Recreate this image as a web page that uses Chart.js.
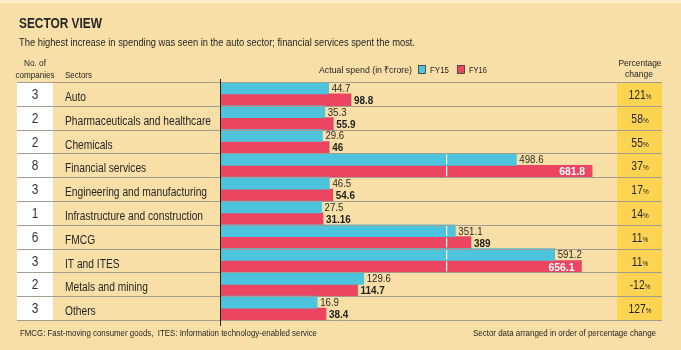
<!DOCTYPE html>
<html>
<head>
<meta charset="utf-8">
<script src="https://cdn.jsdelivr.net/npm/chart.js@4.4.1/dist/chart.umd.min.js"></script>
<style>
  body { margin: 0; background: #f8dfa7; }
  #wrap { position: relative; width: 681px; height: 350px; }
</style>
</head>
<body>
<div id="wrap"><canvas id="chart" width="681" height="350"></canvas></div>
<script>
const sectors = ['Auto', 'Pharmaceuticals and healthcare', 'Chemicals', 'Financial services',
  'Engineering and manufacturing', 'Infrastructure and construction', 'FMCG', 'IT and ITES',
  'Metals and mining', 'Others'];
const companies = [3, 2, 2, 8, 3, 1, 6, 3, 2, 3];
const fy15 = [44.7, 35.3, 29.6, 498.6, 46.5, 27.5, 351.1, 591.2, 129.6, 16.9];
const fy16 = [98.8, 55.9, 46, 681.8, 54.6, 31.16, 389, 656.1, 114.7, 38.4];
const pctChange = [121, 58, 55, 37, 17, 14, 11, 11, -12, 127];

const FONT = "'Liberation Sans', Arial, sans-serif";
const BLUE = '#4dc3de';
const RED = '#eb4562';
const INK = '#262626';
const AXIS_MIN = -218;   // leaves a stub so small bars stay visible, like the original
const BREAK_AT = 330;    // white break mark on long bars

// the original uses a condensed face, so squeeze text horizontally
function drawText(ctx, txt, x, y, font, sx, align) {
  ctx.save();
  ctx.font = font;
  const w = ctx.measureText(txt).width * sx;
  const x0 = align === 'center' ? x - w / 2 : align === 'right' ? x - w : x;
  ctx.translate(x0, y);
  ctx.scale(sx, 1);
  ctx.textAlign = 'left';
  ctx.fillText(txt, 0, 0);
  ctx.restore();
  return w;
}
function fitText(ctx, txt, x, y, font, width, align) {
  ctx.save();
  ctx.font = font;
  const sx = width / ctx.measureText(txt).width;
  ctx.restore();
  return drawText(ctx, txt, x, y, font, sx, align);
}

const tablePlugin = {
  id: 'table',
  beforeDraw(chart) {
    const ctx = chart.ctx;
    const y = chart.scales.y;
    const top = chart.chartArea.top, bottom = chart.chartArea.bottom;
    ctx.save();
    ctx.fillStyle = '#fcecca';
    ctx.fillRect(0, 0, chart.width, 3);
    ctx.fillStyle = '#ffffff';
    ctx.fillRect(17, top, 36, bottom - top);
    ctx.fillStyle = '#fdd452';
    ctx.fillRect(617, top, 45, bottom - top);

    ctx.fillStyle = INK;
    ctx.textBaseline = 'alphabetic';
    fitText(ctx, 'SECTOR VIEW', 19, 28, 'bold 14px ' + FONT, 83, 'left');
    fitText(ctx, 'The highest increase in spending was seen in the auto sector; financial services spent the most.',
      19, 46, '10.5px ' + FONT, 396, 'left');

    // headers
    fitText(ctx, 'No. of', 35, 66, '9px ' + FONT, 22, 'center');
    fitText(ctx, 'companies', 35, 78, '9px ' + FONT, 39, 'center');
    fitText(ctx, 'Sectors', 65, 78, '9px ' + FONT, 27, 'left');
    fitText(ctx, 'Percentage', 640, 66, '9.5px ' + FONT, 43, 'center');
    fitText(ctx, 'change', 639, 77, '9.5px ' + FONT, 28, 'center');
    fitText(ctx, 'Actual spend (in \u20B9crore)', 319, 73, '9.5px ' + FONT, 93, 'left');
    ctx.strokeStyle = '#333';
    ctx.lineWidth = 0.8;
    ctx.fillStyle = BLUE;
    ctx.fillRect(418.5, 65.5, 7, 8);
    ctx.strokeRect(418.5, 65.5, 7, 8);
    ctx.fillStyle = RED;
    ctx.fillRect(457.5, 65.5, 7, 8);
    ctx.strokeRect(457.5, 65.5, 7, 8);
    ctx.fillStyle = INK;
    fitText(ctx, 'FY15', 430, 73, '9.5px ' + FONT, 19, 'left');
    fitText(ctx, 'FY16', 469, 73, '9.5px ' + FONT, 18, 'left');

    // footer
    fitText(ctx, 'FMCG: Fast-moving consumer goods,  ITES: Information technology-enabled service',
      20, 336, '9px ' + FONT, 297, 'left');
    fitText(ctx, 'Sector data arranged in order of percentage change', 656, 336, '9px ' + FONT, 183, 'right');

    // companies, sector names and percentage change, one per row
    ctx.font = '12.5px ' + FONT;
    const sectorSx = 146 / ctx.measureText('Pharmaceuticals and healthcare').width;
    sectors.forEach((name, i) => {
      const cy = y.getPixelForValue(i);
      ctx.fillStyle = '#333';
      drawText(ctx, String(companies[i]), 35, cy + 5, '14px ' + FONT, 0.85, 'center');
      ctx.fillStyle = INK;
      drawText(ctx, name, 65, cy + 7, '12.5px ' + FONT, sectorSx, 'left');
      const num = String(pctChange[i]);
      ctx.font = '13px ' + FONT;
      const w1 = ctx.measureText(num).width * 0.8;
      ctx.font = '8px ' + FONT;
      const w2 = ctx.measureText('%').width * 0.8;
      const x0 = 640 - (w1 + w2) / 2;
      drawText(ctx, num, x0, cy + 5, '13px ' + FONT, 0.8, 'left');
      drawText(ctx, '%', x0 + w1, cy + 5, '8px ' + FONT, 0.8, 'left');
    });
    ctx.restore();
  },
  afterDatasetsDraw(chart) {
    const ctx = chart.ctx;
    const x = chart.scales.x;
    const y = chart.scales.y;
    const area = chart.chartArea;
    ctx.save();
    // break marks on long bars
    const bx = x.getPixelForValue(BREAK_AT);
    ctx.strokeStyle = '#ffffff';
    ctx.lineWidth = 1.2;
    [fy15, fy16].forEach((vals, d) => {
      chart.getDatasetMeta(d).data.forEach((bar, i) => {
        if (vals[i] > BREAK_AT) {
          ctx.beginPath();
          ctx.moveTo(bx, bar.y - bar.height / 2 + 1);
          ctx.lineTo(bx, bar.y + bar.height / 2 - 1);
          ctx.stroke();
        }
      });
    });
    // row separators
    const step = y.getPixelForValue(1) - y.getPixelForValue(0);
    ctx.strokeStyle = '#a29d8e';
    ctx.lineWidth = 1;
    for (let i = 0; i <= sectors.length; i++) {
      const ly = Math.round(y.getPixelForValue(i) - step / 2) + 0.5;
      ctx.beginPath();
      ctx.moveTo(17, ly);
      ctx.lineTo(662, ly);
      ctx.stroke();
    }
    // axis line
    ctx.strokeStyle = '#222';
    ctx.beginPath();
    ctx.moveTo(area.left + 0.5, 79);
    ctx.lineTo(area.left + 0.5, 326);
    ctx.stroke();
    // value labels
    ctx.textBaseline = 'middle';
    [fy15, fy16].forEach((vals, d) => {
      chart.getDatasetMeta(d).data.forEach((bar, i) => {
        const v = vals[i];
        const txt = String(v);
        if (v > 600 && d === 1) {
          ctx.fillStyle = '#ffffff';
          drawText(ctx, txt, bar.x - 7, bar.y + 1, 'bold 11.5px ' + FONT, 0.9, 'right');
        } else if (d === 1) {
          ctx.fillStyle = '#1e1e1e';
          drawText(ctx, txt, bar.x + 3, bar.y + 1, 'bold 11px ' + FONT, 0.9, 'left');
        } else {
          ctx.fillStyle = '#2a2a2a';
          drawText(ctx, txt, bar.x + 3, bar.y + 1, '10.5px ' + FONT, 0.92, 'left');
        }
      });
    });
    ctx.restore();
  }
};

new Chart(document.getElementById('chart'), {
  type: 'bar',
  data: {
    labels: sectors,
    datasets: [
      { label: 'FY15', data: fy15, backgroundColor: BLUE, base: AXIS_MIN },
      { label: 'FY16', data: fy16, backgroundColor: RED, base: AXIS_MIN }
    ]
  },
  options: {
    indexAxis: 'y',
    responsive: false,
    animation: false,
    layout: { padding: { left: 65, right: 64, top: 82, bottom: 30 } },
    datasets: { bar: { categoryPercentage: 1, barPercentage: 1, borderWidth: 0 } },
    plugins: { legend: { display: false }, tooltip: { enabled: false } },
    scales: {
      x: { display: false, min: AXIS_MIN, max: 742 },
      y: {
        grid: { display: false },
        border: { display: false },
        afterFit(scale) { scale.width = 155; },
        ticks: { display: false }
      }
    }
  },
  plugins: [tablePlugin]
});
</script>
</body>
</html>
